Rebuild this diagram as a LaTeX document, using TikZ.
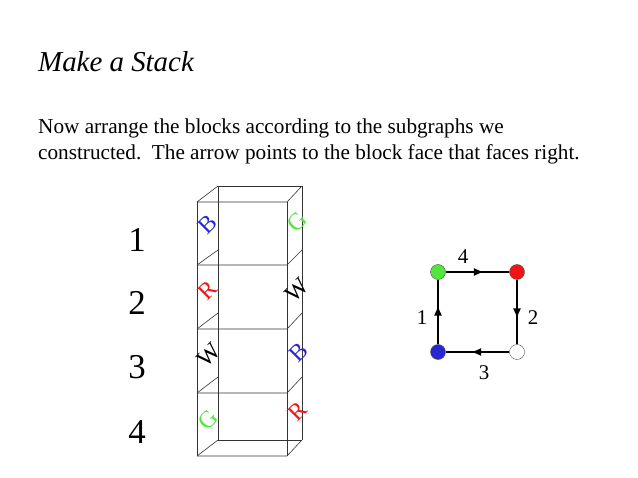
\documentclass[tikz,border=0pt]{standalone}
\usepackage{fontspec}
\setmainfont{Liberation Serif}
\usetikzlibrary{decorations.markings,arrows.meta}
\definecolor{gB}{RGB}{40,40,210}
\definecolor{gG}{RGB}{80,230,60}
\definecolor{gR}{RGB}{240,20,20}
\begin{document}
\begin{tikzpicture}[x=1bp,y=-1bp,
  edge/.style={line width=1.5pt,postaction={decorate},decoration={markings,mark=at position 0.6 with {\arrow{Latex[length=10bp,width=8bp]}}}},
  dot/.style={circle,draw=black!70,inner sep=0pt,minimum size=15bp},
  box/.style={draw=black!80,line width=0.6pt},
  lt/.style={font=\fontsize{24}{24}\selectfont,rotate=45,inner sep=0pt},
  num/.style={font=\fontsize{35}{35}\selectfont},
  gl/.style={font=\fontsize{21}{21}\selectfont}]
\useasboundingbox (0,0) rectangle (638,478);
\node[anchor=west,font=\itshape\fontsize{29}{29}\selectfont,inner sep=0pt] (title) at (38,62) {Make a Stack};
\node[anchor=north west,align=left,font=\fontsize{21.3}{25.5}\selectfont,inner sep=0pt] (txt) at (38,119) {Now arrange the blocks according to the subgraphs we\\constructed.\ \ The arrow points to the block face that faces right.};
% stack
\draw[box] (218,186) -- (218,440) -- (302,440);
\draw[box] (302,186) -- (302,440);
\foreach \f/\b in {202/186,265/250,329/313,393/377,456/440}{
  \draw[box] (197,\f) -- (287,\f) -- (302,\b);
  \draw[box] (197,\f) -- (218,\b);
}
\draw[box] (218,186) -- (302,186);
\draw[box] (197,202) -- (197,456);
\draw[box] (287,202) -- (287,456);
\node[num] (n1) at (137,240) {1};
\node[num] (n2) at (137,303) {2};
\node[num] (n3) at (137,367) {3};
\node[num] (n4) at (137,432) {4};
\node[lt,gB] (l1) at (208,224) {B};
\node[lt,gR] (l2) at (208,290) {R};
\node[lt] (l3) at (209,355) {W};
\node[lt,gG] (l4) at (208,420) {G};
\node[lt,gG] (r1) at (297,222) {G};
\node[lt] (r2) at (297,290) {W};
\node[lt,gB] (r3) at (299,352) {B};
\node[lt,gR] (r4) at (298,411) {R};
% graph
\node[dot,fill=gG] (g) at (438,272) {};
\node[dot,fill=gR] (r) at (517,272) {};
\node[dot,fill=white] (w) at (517,352) {};
\node[dot,fill=gB] (b) at (438,352) {};
\draw[edge] (b) -- (g);
\draw[edge] (g) -- (r);
\draw[edge] (r) -- (w);
\draw[edge] (w) -- (b);
\node[gl] (e4) at (463,257) {4};
\node[gl] (e2) at (533,318) {2};
\node[gl] (e3) at (484,373) {3};
\node[gl] (e1) at (422,318) {1};
\end{tikzpicture}
\end{document}
